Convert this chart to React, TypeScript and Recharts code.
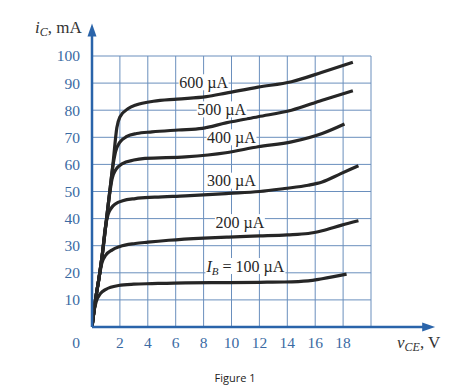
import { LineChart, Line, XAxis, YAxis, CartesianGrid, ReferenceLine, ReferenceDot } from 'recharts';

// collector characteristics, v_CE in volts, i_C in mA
const X_TICKS = [0, 2, 4, 6, 8, 10, 12, 14, 16, 18, 20];
const Y_TICKS = [0, 10, 20, 30, 40, 50, 60, 70, 80, 90, 100];

const CURVE_100 = [
  { v: 0, i: 0 }, { v: 0.12, i: 5 }, { v: 0.3, i: 9.3 }, { v: 0.6, i: 12.3 }, { v: 1, i: 13.9 },
  { v: 1.9, i: 15.3 }, { v: 3, i: 15.8 }, { v: 4.3, i: 16 }, { v: 6.7, i: 16.3 }, { v: 9.8, i: 16.4 },
  { v: 12, i: 16.5 }, { v: 13.8, i: 16.6 }, { v: 15.5, i: 17 }, { v: 16.5, i: 17.8 }, { v: 18.25, i: 19.5 },
];
const CURVE_200 = [
  { v: 0, i: 0 }, { v: 0.25, i: 10 }, { v: 0.5, i: 18 }, { v: 0.7, i: 23.5 }, { v: 1, i: 26.6 },
  { v: 1.43, i: 28.4 }, { v: 2, i: 29.7 }, { v: 3.1, i: 30.8 }, { v: 4, i: 31.3 }, { v: 5.5, i: 32 },
  { v: 8, i: 32.8 }, { v: 9.8, i: 33.2 }, { v: 12, i: 33.6 }, { v: 14, i: 34 }, { v: 15.5, i: 34.5 },
  { v: 16.5, i: 35.5 }, { v: 17.9, i: 37.6 }, { v: 19.1, i: 39.2 },
];
const CURVE_300 = [
  { v: 0, i: 0 }, { v: 0.25, i: 10 }, { v: 0.5, i: 18 }, { v: 0.72, i: 26 }, { v: 0.95, i: 36.5 },
  { v: 1.15, i: 41.5 }, { v: 1.4, i: 44 }, { v: 1.7, i: 45.5 }, { v: 2.2, i: 46.6 }, { v: 3.1, i: 47.4 },
  { v: 4.5, i: 47.9 }, { v: 6.7, i: 48.4 }, { v: 9.8, i: 49.3 }, { v: 12, i: 50 }, { v: 13.8, i: 51.1 },
  { v: 15.5, i: 52.3 }, { v: 16.5, i: 53.5 }, { v: 17.8, i: 56.5 }, { v: 19.1, i: 59.5 },
];
const CURVE_400 = [
  { v: 0, i: 0 }, { v: 0.25, i: 10 }, { v: 0.5, i: 18 }, { v: 0.72, i: 26 }, { v: 1, i: 38 },
  { v: 1.25, i: 48.5 }, { v: 1.43, i: 54.5 }, { v: 1.7, i: 58 }, { v: 2.15, i: 60.2 }, { v: 3, i: 61.6 },
  { v: 3.8, i: 62.2 }, { v: 6.7, i: 62.8 }, { v: 9.6, i: 64.3 }, { v: 11.9, i: 66.5 }, { v: 14.3, i: 68.3 },
  { v: 16.5, i: 71.4 }, { v: 18.1, i: 74.9 },
];
const CURVE_500 = [
  { v: 0, i: 0 }, { v: 0.25, i: 10 }, { v: 0.5, i: 18 }, { v: 0.72, i: 26 }, { v: 1, i: 38 },
  { v: 1.25, i: 49 }, { v: 1.5, i: 59.5 }, { v: 1.68, i: 64.5 }, { v: 2, i: 68.2 }, { v: 2.5, i: 70.3 },
  { v: 3.2, i: 71.4 }, { v: 4.3, i: 72 }, { v: 6.2, i: 72.7 }, { v: 7.9, i: 73.3 }, { v: 9.6, i: 75.3 },
  { v: 11.9, i: 77.6 }, { v: 14.3, i: 80 }, { v: 16.5, i: 83.7 }, { v: 18.7, i: 87.2 },
];
const CURVE_600 = [
  { v: 0, i: 0 }, { v: 0.25, i: 10 }, { v: 0.5, i: 18 }, { v: 0.72, i: 26 }, { v: 1, i: 38 },
  { v: 1.25, i: 49 }, { v: 1.5, i: 60 }, { v: 1.78, i: 73.5 }, { v: 2, i: 77.5 }, { v: 2.6, i: 80.6 },
  { v: 3.2, i: 82 }, { v: 4.4, i: 83.3 }, { v: 6.1, i: 84.1 }, { v: 8.2, i: 85 }, { v: 9.6, i: 86.3 },
  { v: 11.9, i: 88.5 }, { v: 14.3, i: 90.5 }, { v: 16.5, i: 94 }, { v: 18.7, i: 97.7 },
];

const CURVES = [CURVE_100, CURVE_200, CURVE_300, CURVE_400, CURVE_500, CURVE_600];
const IB_VALUES = ['100', '200', '300', '400', '500', '600'];
// where each I_B label sits (v, i)
const LABEL_V = [11, 10.6, 10, 10, 9.3, 8];
const LABEL_I = [22.5, 38.7, 54, 70, 80.3, 90.3];

const BLUE = '#2a64aa';
const GRID = '#6a8fbd';
const TICK = '#3a6aa3';
const INK = '#262626';
const SERIF = '"Liberation Serif", "DejaVu Serif", serif';

const renderXTick = ({ x, y, payload }: any) => {
  if (payload.value === 20) return <g />;
  const isZero = payload.value === 0;
  return (
    <text x={isZero ? x - 16 : x} y={y + 21} textAnchor="middle" fill={TICK} fontSize={15.5} fontFamily={SERIF}>
      {payload.value}
    </text>
  );
};

const renderYTick = ({ x, y, payload }: any) => {
  if (payload.value === 0) return <g />;
  return (
    <text x={x} y={y} dy="0.35em" textAnchor="end" fill={TICK} fontSize={15.5} fontFamily={SERIF}>
      {payload.value}
    </text>
  );
};

const arrowLine = (dir: 'up' | 'right') => (p: any) => {
  const { x1, y1, x2, y2 } = p;
  const head = dir === 'up'
    ? `${x2},${y2} ${x2 - 4.5},${y2 + 13} ${x2 + 4.5},${y2 + 13}`
    : `${x2},${y2} ${x2 - 13},${y2 - 4.5} ${x2 - 13},${y2 + 4.5}`;
  const ex = dir === 'up' ? x2 : x2 - 10;
  const ey = dir === 'up' ? y2 + 10 : y2;
  return (
    <g>
      <line x1={x1} y1={y1} x2={ex} y2={ey} stroke={BLUE} strokeWidth={2.5} />
      <polygon points={head} fill={BLUE} />
    </g>
  );
};

const curveLabel = (ib: string) => (p: any) => {
  const { cx, cy } = p;
  const first = ib === '100';
  const w = first ? 80 : 50;
  return (
    <g>
      <rect x={cx - w / 2} y={cy - 8} width={w} height={16} fill="#fff" />
      <text x={cx} y={cy} dy="0.35em" textAnchor="middle" fill={INK} fontSize={16} fontFamily={SERIF}>
        {first && <tspan fontStyle="italic">I</tspan>}
        {first && <tspan fontStyle="italic" fontSize={11} dy={3}>B</tspan>}
        {first && <tspan dy={-3}> = </tspan>}
        {ib} µA
      </text>
    </g>
  );
};

export default function App() {
  return (
    <div style={{ position: 'absolute', left: 0, top: 0, width: 474, height: 387, background: '#fff' }}>
      <LineChart width={474} height={387} margin={{ top: 56, right: 103, bottom: 59, left: 91 }}>
        <CartesianGrid stroke={GRID} strokeWidth={1} />
        <XAxis
          type="number"
          dataKey="v"
          domain={[0, 20]}
          ticks={X_TICKS}
          height={1}
          axisLine={false}
          tickLine={false}
          tickSize={0}
          tickMargin={0}
          tick={renderXTick}
          interval={0}
          allowDataOverflow
        />
        <YAxis
          type="number"
          dataKey="i"
          domain={[0, 100]}
          ticks={Y_TICKS}
          width={1}
          axisLine={false}
          tickLine={false}
          tickSize={0}
          tickMargin={12}
          tick={renderYTick}
          interval={0}
          allowDataOverflow
        />
        {CURVES.map((c, idx) => (
          <Line
            key={IB_VALUES[idx]}
            data={c}
            dataKey="i"
            type="monotone"
            stroke={INK}
            strokeWidth={3.2}
            dot={false}
            isAnimationActive={false}
          />
        ))}
        <ReferenceLine
          segment={[{ x: 0, y: 0 }, { x: 0, y: 112 }]}
          ifOverflow="visible"
          shape={arrowLine('up')}
        />
        <ReferenceLine
          segment={[{ x: 0, y: 0 }, { x: 24.6, y: 0 }]}
          ifOverflow="visible"
          shape={arrowLine('right')}
        />
        {IB_VALUES.map((ib, idx) => (
          <ReferenceDot
            key={`lbl-${ib}`}
            x={LABEL_V[idx]}
            y={LABEL_I[idx]}
            r={0}
            ifOverflow="visible"
            shape={curveLabel(ib)}
          />
        ))}
        <text x={35} y={33} fill="#333" fontSize={17} fontFamily={SERIF}>
          <tspan fontStyle="italic">i</tspan>
          <tspan fontStyle="italic" fontSize={12} dy={3}>C</tspan>
          <tspan dy={-3}>, mA</tspan>
        </text>
        <text x={397} y={348} fill="#333" fontSize={17} fontFamily={SERIF}>
          <tspan fontStyle="italic">v</tspan>
          <tspan fontStyle="italic" fontSize={12} dy={3}>CE</tspan>
          <tspan dy={-3}>, V</tspan>
        </text>
        <text x={235} y={382} textAnchor="middle" fill="#222" fontSize={11} fontFamily='"Open Sans", "Liberation Sans", sans-serif'>
          Figure 1
        </text>
      </LineChart>
    </div>
  );
}
